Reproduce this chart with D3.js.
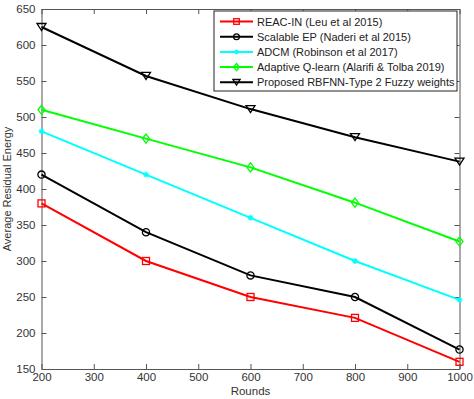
<!DOCTYPE html>
<html lang="en">
<head>
  <meta charset="UTF-8" />
  <title>Average Residual Energy vs Rounds</title>
  <script src="https://d3js.org/d3.v7.min.js"></script>
  <style>
    body {
      margin: 0;
      background: #fff;
      font-family: 'Liberation Sans', Arial, sans-serif;
    }
    svg { display: block; }
  </style>
</head>
<body>
  <div id="chart"></div>

  <script>
    const rounds = [200, 400, 600, 800, 1000];

    const reacIn     = [380, 300, 250, 221, 160];
    const scalableEp = [420, 340, 280, 250, 177];
    const adcm       = [480, 420, 360, 300, 246];
    const qLearn     = [510, 470, 430, 381, 327];
    const proposed   = [625, 557, 511, 472, 438];

    const seriesNames = [
      "REAC-IN (Leu et al 2015)",
      "Scalable EP (Naderi et al 2015)",
      "ADCM (Robinson et al 2017)",
      "Adaptive Q-learn (Alarifi & Tolba 2019)",
      "Proposed RBFNN-Type 2 Fuzzy weights"
    ];

    const xTicks = [200, 300, 400, 500, 600, 700, 800, 900, 1000];
    const yTicks = [150, 200, 250, 300, 350, 400, 450, 500, 550, 600, 650];

    const series = [
      { name: seriesNames[0], values: reacIn,     color: "#ff0000", marker: "square" },
      { name: seriesNames[1], values: scalableEp, color: "#000000", marker: "circle" },
      { name: seriesNames[2], values: adcm,       color: "#00ffff", marker: "star" },
      { name: seriesNames[3], values: qLearn,     color: "#00ff00", marker: "diamond" },
      { name: seriesNames[4], values: proposed,   color: "#000000", marker: "triangle" }
    ];

    const width = 474, height = 399;
    const margin = { top: 9, right: 15, bottom: 30, left: 41.5 };
    const iw = 459.5 - margin.left, ih = 369 - margin.top;

    const svg = d3.select("#chart").append("svg")
      .attr("width", width)
      .attr("height", height);

    const g = svg.append("g")
      .attr("transform", `translate(${margin.left},${margin.top})`);

    const x = d3.scaleLinear().domain([200, 1000]).range([0, iw]);
    const y = d3.scaleLinear().domain([150, 650]).range([ih, 0]);

    const axisColor = "#555";
    const textColor = "#333";

    // axes with ticks pointing inward (matlab style box)
    function styleAxis(sel) {
      sel.select(".domain").attr("stroke", axisColor);
      sel.selectAll(".tick line").attr("stroke", axisColor);
      sel.selectAll(".tick text")
        .attr("fill", textColor)
        .attr("font-size", "11.5px")
        .attr("font-family", "'Liberation Sans', Arial, sans-serif");
    }

    g.append("g")
      .attr("transform", `translate(0,${ih})`)
      .call(d3.axisBottom(x).tickValues(xTicks).tickFormat(d3.format("d"))
        .tickSizeInner(-5).tickSizeOuter(0).tickPadding(4))
      .call(styleAxis);

    g.append("g")
      .call(d3.axisLeft(y).tickValues(yTicks).tickFormat(d3.format("d"))
        .tickSizeInner(-5).tickSizeOuter(0).tickPadding(6))
      .call(styleAxis);

    g.append("g")
      .call(d3.axisTop(x).tickValues(xTicks).tickSizeInner(-5).tickSizeOuter(0).tickFormat(""))
      .call(styleAxis);

    g.append("g")
      .attr("transform", `translate(${iw},0)`)
      .call(d3.axisRight(y).tickValues(yTicks).tickSizeInner(-5).tickSizeOuter(0).tickFormat(""))
      .call(styleAxis);

    // axis titles
    svg.append("text")
      .attr("x", margin.left + iw / 2)
      .attr("y", 395)
      .attr("text-anchor", "middle")
      .attr("font-size", "11.5px")
      .attr("fill", textColor)
      .text("Rounds");

    svg.append("text")
      .attr("transform", `translate(11,${margin.top + ih / 2}) rotate(-90)`)
      .attr("text-anchor", "middle")
      .attr("font-size", "11px")
      .attr("fill", textColor)
      .text("Average Residual Energy");

    const line = d3.line()
      .x((d, i) => x(rounds[i]))
      .y(d => y(d));

    function drawMarker(sel, type, color, k) {
      const s = k || 1;
      if (type === "square") {
        sel.append("rect").attr("x", -3.5 * s).attr("y", -3.5 * s)
          .attr("width", 7 * s).attr("height", 7 * s)
          .attr("fill", "none").attr("stroke", color).attr("stroke-width", 1.3);
      } else if (type === "circle") {
        sel.append("circle").attr("r", 3.6 * s)
          .attr("fill", "none").attr("stroke", color).attr("stroke-width", 1.3);
      } else if (type === "star") {
        sel.append("path")
          .attr("d", `M${-3 * s},0H${3 * s}M0,${-3 * s}V${3 * s}M${-2 * s},${-2 * s}L${2 * s},${2 * s}M${-2 * s},${2 * s}L${2 * s},${-2 * s}`)
          .attr("stroke", color).attr("stroke-width", 1.3);
      } else if (type === "diamond") {
        sel.append("path").attr("d", `M0,${-4.5 * s}L${3.5 * s},0L0,${4.5 * s}L${-3.5 * s},0Z`)
          .attr("fill", "none").attr("stroke", color).attr("stroke-width", 1.3);
      } else if (type === "triangle") {
        sel.append("path").attr("d", `M${-4.5 * s},${-3.5 * s}L${4.5 * s},${-3.5 * s}L0,${3.5 * s}Z`)
          .attr("fill", "none").attr("stroke", color).attr("stroke-width", 1.3);
      }
    }

    series.forEach(s => {
      g.append("path")
        .datum(s.values)
        .attr("fill", "none")
        .attr("stroke", s.color)
        .attr("stroke-width", 2)
        .attr("d", line);

      s.values.forEach((v, i) => {
        const m = g.append("g").attr("transform", `translate(${x(rounds[i])},${y(v)})`);
        drawMarker(m, s.marker, s.color, 1);
      });
    });

    // legend
    const legend = svg.append("g").attr("transform", "translate(214,11)");
    legend.append("rect")
      .attr("width", 243).attr("height", 80)
      .attr("fill", "#fff")
      .attr("stroke", "#222")
      .attr("stroke-width", 1);

    series.forEach((s, i) => {
      const row = legend.append("g").attr("transform", `translate(0,${10.5 + i * 15.2})`);
      row.append("line")
        .attr("x1", 6).attr("x2", 39)
        .attr("stroke", s.color).attr("stroke-width", 2);
      const m = row.append("g").attr("transform", "translate(22.5,0)");
      drawMarker(m, s.marker, s.color, 0.8);
      row.append("text")
        .attr("x", 43).attr("y", 4)
        .attr("font-size", "11px")
        .attr("fill", "#222")
        .text(s.name);
    });
  </script>
</body>
</html>
